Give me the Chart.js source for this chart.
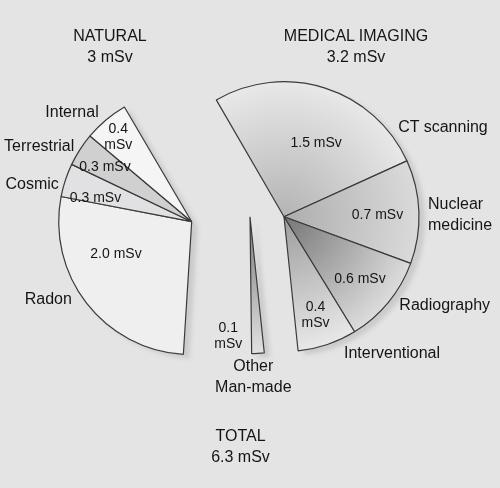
<!DOCTYPE html>
<html>
<head>
<meta charset="utf-8">
<script src="https://cdn.jsdelivr.net/npm/chart.js@4/dist/chart.umd.min.js"></script>
<style>
  html, body { margin: 0; padding: 0; background: #e4e4e5; overflow: hidden; }
  #wrap { position: relative; width: 500px; height: 488px; }
  canvas { position: absolute; left: 0; top: 0; }
  .t { position: absolute; font-family: "Liberation Sans", Arial, Helvetica, sans-serif; color: #151515; white-space: nowrap; }
</style>
</head>
<body>
<div id="wrap">
  <canvas id="cNat" width="500" height="488"></canvas>
  <canvas id="cOth" width="500" height="488"></canvas>
  <canvas id="cMed" width="500" height="488"></canvas>
</div>
<script>
// ---------------- data ----------------
const naturalLabels = ['Radon', 'Cosmic', 'Terrestrial', 'Internal'];
const naturalValues = [2.0, 0.3, 0.3, 0.4];
const medicalLabels = ['CT scanning', 'Nuclear medicine', 'Radiography', 'Interventional'];
const medicalValues = [1.5, 0.7, 0.6, 0.4];
const otherLabels = ['Other Man-made'];
const otherValues = [0.1];
const groupTitles = ['NATURAL', 'MEDICAL IMAGING', 'TOTAL'];
const unit = 'mSv';

// ---------------- styles / layout ----------------
const naturalColors = [['#efefef', '#efefef'], ['#e1e1e3', '#e1e1e3'], ['#d0d0d1', '#d0d0d1'], ['#f5f5f5', '#f5f5f5']];
const medicalColors = [['#b4b4b4', '#e8e8e8'], ['#adadad', '#dadada'], ['#767676', '#dcdcdc'], ['#9c9c9c', '#e8e8e8']];
const otherColors = [['#7a7a7a', '#e2e2e2']];

const groups = [
  { id: 'cNat', labels: naturalLabels, values: naturalValues, colors: naturalColors,
    cx: 191.7, cy: 221.7, r: 133, rotation: 183.6, circumference: 146 },
  { id: 'cOth', labels: otherLabels, values: otherValues, colors: otherColors,
    cx: 250, cy: 216.7, r: 137, rotation: 174, circumference: 5.3 },
  { id: 'cMed', labels: medicalLabels, values: medicalValues, colors: medicalColors,
    cx: 284, cy: 216.7, r: 135, rotation: -30.1, circumference: 204.1 }
];

// label anchor positions (centre of text), in the same order as the data
const naturalValuePos = [[116, 253.3], [95.5, 197], [105, 165.7], [118.3, 136.2, 'wrap']];
const naturalCatPos = [[48.3, 298.7], [32.2, 184.2], [39.2, 146.3], [72, 112]];
const medicalValuePos = [[316.2, 142.3], [377.5, 214], [360, 277.7], [315.5, 313.5, 'wrap']];
const medicalCatPos = [[443, 126.8], [428, 214, 'wrapLeft'], [444.7, 305], [392, 353.3]];
const otherValuePos = [[228.3, 335, 'wrap']];
const otherCatPos = [[253.3, 376.3, 'wrap']];
const titlePos = [[110, 36, 56.5], [356, 36, 56.5], [240.5, 436, 456.5]];

// ---------------- charts ----------------
const placePlugin = (g) => ({
  id: 'place',
  afterDatasetsUpdate(chart) {
    chart.getDatasetMeta(0).data.forEach(a => { a.x = g.cx; a.y = g.cy; });
  }
});

const shadowPlugin = {
  id: 'shadow',
  beforeDatasetsDraw(chart) {
    const arcs = chart.getDatasetMeta(0).data;
    if (!arcs.length) return;
    const a0 = arcs[0], a1 = arcs[arcs.length - 1];
    const ctx = chart.ctx;
    const dx = 6, dy = 4;
    ctx.save();
    ctx.filter = 'blur(2px)';
    ctx.fillStyle = '#cbcbcd';
    ctx.beginPath();
    ctx.moveTo(a0.x + dx, a0.y + dy);
    ctx.arc(a0.x + dx, a0.y + dy, a0.outerRadius, a0.startAngle, a1.endAngle);
    ctx.closePath();
    ctx.fill();
    ctx.restore();
  }
};

groups.forEach(g => {
  const canvas = document.getElementById(g.id);
  new Chart(canvas, {
    type: 'pie',
    data: {
      labels: g.labels,
      datasets: [{
        data: g.values,
        backgroundColor: (c) => {
          const col = g.colors[c.dataIndex];
          if (!col) return '#ccc';
          const grad = c.chart.ctx.createRadialGradient(g.cx, g.cy, 0, g.cx, g.cy, g.r);
          grad.addColorStop(0, col[0]);
          grad.addColorStop(1, col[1]);
          return grad;
        },
        borderColor: '#3a3a3a',
        borderWidth: 1.2
      }]
    },
    options: {
      responsive: false,
      animation: false,
      events: [],
      rotation: g.rotation,
      circumference: g.circumference,
      radius: g.r,
      layout: { padding: 0 },
      plugins: { legend: { display: false }, tooltip: { enabled: false } }
    },
    plugins: [placePlugin(g), shadowPlugin]
  });
});

// ---------------- text ----------------
const wrap = document.getElementById('wrap');
function place(text, x, y, size, mode) {
  const d = document.createElement('div');
  d.className = 't';
  d.style.fontSize = size + 'px';
  const lines = mode ? text.split(' ') : [text];
  d.style.lineHeight = (lines.length > 1 ? (size === 16 ? 20.5 : 16) : size) + 'px';
  lines.forEach((ln, i) => {
    if (i) d.appendChild(document.createElement('br'));
    d.appendChild(document.createTextNode(ln));
  });
  d.style.left = x + 'px';
  d.style.top = y + 'px';
  if (mode === 'wrapLeft') {
    d.style.textAlign = 'left';
    d.style.transform = 'translate(0,-50%)';
  } else {
    d.style.textAlign = 'center';
    d.style.transform = 'translate(-50%,-50%)';
  }
  wrap.appendChild(d);
}
const fmt = v => String(parseFloat(v.toFixed(1)));
const fmt1 = v => v.toFixed(1);

naturalValues.forEach((v, i) => place(fmt1(v) + ' ' + unit, naturalValuePos[i][0], naturalValuePos[i][1], 14, naturalValuePos[i][2]));
naturalLabels.forEach((l, i) => place(l, naturalCatPos[i][0], naturalCatPos[i][1], 16, naturalCatPos[i][2]));
medicalValues.forEach((v, i) => place(fmt1(v) + ' ' + unit, medicalValuePos[i][0], medicalValuePos[i][1], 14, medicalValuePos[i][2]));
medicalLabels.forEach((l, i) => place(l, medicalCatPos[i][0], medicalCatPos[i][1], 16, medicalCatPos[i][2]));
otherValues.forEach((v, i) => place(fmt1(v) + ' ' + unit, otherValuePos[i][0], otherValuePos[i][1], 14, otherValuePos[i][2]));
otherLabels.forEach((l, i) => place(l, otherCatPos[i][0], otherCatPos[i][1], 16, otherCatPos[i][2]));

const sum = a => a.reduce((s, v) => s + v, 0);
const totals = [sum(naturalValues), sum(medicalValues), sum(naturalValues) + sum(medicalValues) + sum(otherValues)];
groupTitles.forEach((t, i) => {
  place(t, titlePos[i][0], titlePos[i][1], 16);
  place(fmt(totals[i]) + ' ' + unit, titlePos[i][0], titlePos[i][2], 16);
});
</script>
</body>
</html>
